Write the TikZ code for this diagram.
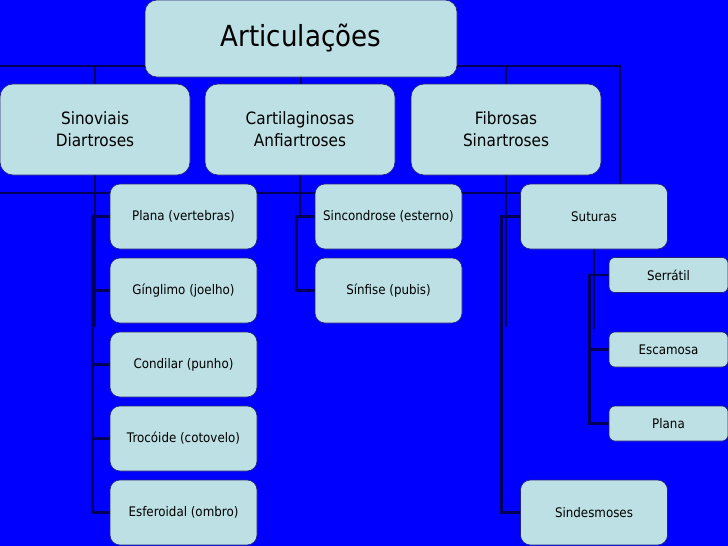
\documentclass[tikz,border=0pt]{standalone}
\usepackage{fontspec}
\setmainfont[FakeStretch=0.9]{DejaVu Sans}
\definecolor{bgblue}{HTML}{0000FF}
\definecolor{boxfill}{HTML}{BCE0E4}
\definecolor{boxline}{HTML}{23237A}
\definecolor{conn}{HTML}{00005A}
\pgfdeclarelayer{back}
\pgfsetlayers{back,main}
\begin{document}
\begin{tikzpicture}[x=1pt,y=-1pt,
  box/.style={draw=boxline, line width=0.6pt, fill=boxfill, rounded corners=#1,
    inner sep=0pt, align=center, text=black},
  box/.default=10pt,
  titlebox/.style={box=12pt, minimum width=312pt, minimum height=77pt,
    font=\fontsize{29}{34}\selectfont},
  catbox/.style={box=13pt, minimum width=190pt, minimum height=91pt,
    font=\fontsize{17}{22}\selectfont},
  subbox/.style={box=10pt, minimum width=147pt, minimum height=65pt,
    font=\fontsize{13.2}{16}\selectfont},
  leafbox/.style={box=6pt, minimum width=119pt, minimum height=35pt,
    font=\fontsize{13.2}{16}\selectfont},
  conn/.style={draw=conn, line width=2.8pt}
]
\useasboundingbox (0,0) rectangle (728,546);

% nodes
\node[titlebox] (art) at (301,38.5) {Articulações};
\node[catbox] (sin) at (95,129.5) {Sinoviais\\Diartroses};
\node[catbox] (cart) at (300,129.5) {Cartilaginosas\\Anfiartroses};
\node[catbox] (fib) at (506,129.5) {Fibrosas\\Sinartroses};

\node[subbox] (plv) at (183.5,216.5) {Plana (vertebras)};
\node[subbox] (gin) at (183.5,290.5) {Gínglimo (joelho)};
\node[subbox] (cond) at (183.5,364.5) {Condilar (punho)};
\node[subbox] (troc) at (183.5,438.5) {Trocóide (cotovelo)};
\node[subbox] (esf) at (183.5,512.5) {Esferoidal (ombro)};

\node[subbox] (sinc) at (388.5,216.5) {Sincondrose (esterno)};
\node[subbox] (sinf) at (388.5,290.5) {Sínfise (pubis)};

\node[subbox] (sut) at (594,216.5) {Suturas};
\node[subbox] (sind) at (594,512.5) {Sindesmoses};

\node[leafbox] (serr) at (668.5,275) {Serrátil};
\node[leafbox] (esc) at (668.5,349.5) {Escamosa};
\node[leafbox] (pla) at (668.5,423.5) {Plana};

\coordinate (l0) at (0,66);
\coordinate (r0) at (620,66);
\coordinate (l1) at (0,193);

\begin{pgfonlayer}{back}
  \fill[bgblue] (0,0) rectangle (728,546);
  % level 1
  \draw[conn] (art.south) -- (art.south |- cart.north);
  \draw[conn] (l0) -- (r0) -- (r0 |- sut.north);
  \draw[conn] (sin.north) -- (sin.north |- l0);
  \draw[conn] (fib.north) -- (fib.north |- l0);
  \draw[conn] (l1) -- (l1 -| sut.west);
  % Sinoviais
  \draw[conn] (sin.south) -- ++(0,152);
  \draw[conn] (esf.west) -- ++(-17,0) |- (plv.west);
  \draw[conn] (gin.west) -- ++(-17,0);
  \draw[conn] (cond.west) -- ++(-17,0);
  \draw[conn] (troc.west) -- ++(-17,0);
  % Cartilaginosas
  \draw[conn] (cart.south) -- ++(0,42);
  \draw[conn] (sinf.west) -- ++(-18,0) |- (sinc.west);
  % Fibrosas
  \draw[conn] (fib.south) -- ++(0,152);
  \draw[conn] (sind.west) -- ++(-19,0) |- (sut.west);
  % Suturas
  \draw[conn] (sut.south) -- ++(0,80);
  \draw[conn] (pla.west) -- ++(-19,0) |- (serr.west);
  \draw[conn] (esc.west) -- ++(-19,0);
\end{pgfonlayer}
\end{tikzpicture}
\end{document}
